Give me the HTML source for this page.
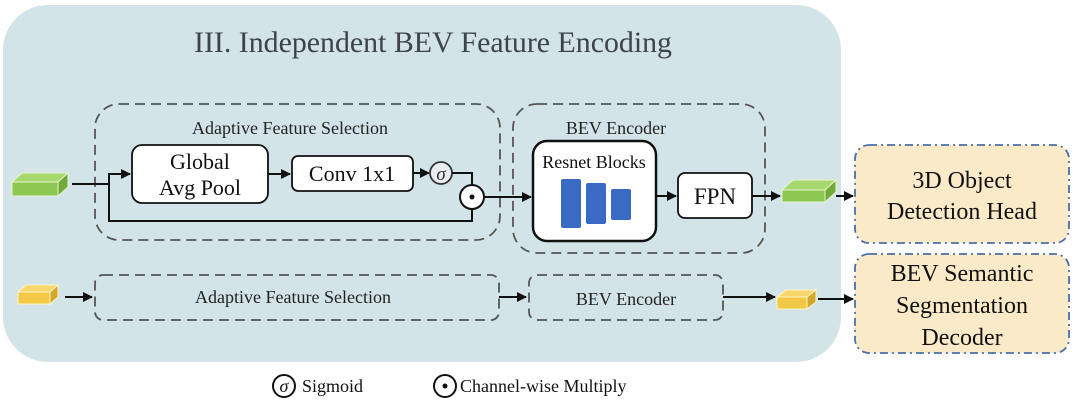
<!DOCTYPE html>
<html><head><meta charset="utf-8"><style>
html,body{margin:0;padding:0;background:#fff;}
svg{display:block;}
svg text{font-family:"Liberation Serif","DejaVu Serif","Noto Serif CJK SC",serif;}
</style></head><body>
<svg width="1080" height="408" viewBox="0 0 1080 408" xmlns="http://www.w3.org/2000/svg">
<defs>
<marker id="ar" markerWidth="10" markerHeight="10" refX="9" refY="5" orient="auto" markerUnits="userSpaceOnUse">
<path d="M0,0 L10,5 L0,10 z" fill="#111"/></marker>
</defs>
<rect x="3" y="5" width="838" height="357" rx="45" fill="#d3e4e8"/>
<text x="433" y="52" font-size="30" fill="#3d4448" text-anchor="middle" textLength="478" lengthAdjust="spacingAndGlyphs">III. Independent BEV Feature Encoding</text>

<rect x="95" y="104" width="405" height="136" rx="24" fill="none" stroke="#555" stroke-width="1.8" stroke-dasharray="10,6"/>
<text x="290" y="134" font-size="18" fill="#222" text-anchor="middle">Adaptive Feature Selection</text>
<g>
<polygon points="12,182 22,173 68,173 58,182" fill="#a6d86e" stroke="#e8f5d0" stroke-width="1"/>
<polygon points="12,182 58,182 58,196 12,196" fill="#8cc850" stroke="#e8f5d0" stroke-width="1"/>
<polygon points="58,182 68,173 68,187 58,196" fill="#6faa3a" stroke="#e8f5d0" stroke-width="1"/>
</g>
<line x1="72" y1="184" x2="109" y2="184" stroke="#111" stroke-width="2"/>
<polyline points="109,184 109,174 130,174" fill="none" stroke="#111" stroke-width="2" marker-end="url(#ar)"/>
<polyline points="109,184 109,221 472,221 472,209" fill="none" stroke="#111" stroke-width="2"/>
<rect x="132" y="145" width="136" height="58" rx="10" fill="#fff" stroke="#111" stroke-width="1.8"/>
<text x="200" y="169" font-size="22" text-anchor="middle" fill="#111">Global</text>
<text x="200" y="195" font-size="22" text-anchor="middle" fill="#111">Avg Pool</text>
<line x1="268" y1="174" x2="290" y2="174" stroke="#111" stroke-width="2" marker-end="url(#ar)"/>
<rect x="292" y="156" width="121" height="35" rx="6" fill="#fff" stroke="#111" stroke-width="1.8"/>
<text x="352" y="181" font-size="22" text-anchor="middle" fill="#111">Conv 1x1</text>
<line x1="413" y1="173" x2="429" y2="173" stroke="#111" stroke-width="2" marker-end="url(#ar)"/>
<circle cx="441" cy="173" r="11" fill="#e8eeee" stroke="#333" stroke-width="1.8"/>
<text x="441" y="180" font-size="19" font-style="italic" text-anchor="middle" fill="#333">σ</text>
<polyline points="452,173 472,173 472,185" fill="none" stroke="#111" stroke-width="2"/>
<circle cx="472" cy="197" r="12" fill="#fff" stroke="#111" stroke-width="2"/>
<circle cx="472" cy="197" r="2.5" fill="#111"/>
<line x1="484" y1="197" x2="531" y2="197" stroke="#111" stroke-width="2" marker-end="url(#ar)"/>

<rect x="513" y="104" width="252" height="149" rx="24" fill="none" stroke="#555" stroke-width="1.8" stroke-dasharray="10,6"/>
<text x="616" y="134" font-size="18" text-anchor="middle" fill="#222">BEV Encoder</text>
<rect x="533" y="141" width="123" height="100" rx="14" fill="#fff" stroke="#111" stroke-width="2.5"/>
<text x="594" y="168" font-size="18" text-anchor="middle" fill="#111">Resnet Blocks</text>
<rect x="561" y="179" width="20" height="49" rx="2" fill="#3a6bc4"/>
<rect x="586" y="183" width="20" height="41" rx="2" fill="#3a6bc4"/>
<rect x="611" y="189" width="20" height="31" rx="2" fill="#3a6bc4"/>
<line x1="656" y1="196" x2="676" y2="196" stroke="#111" stroke-width="2" marker-end="url(#ar)"/>
<rect x="678" y="173" width="74" height="45" rx="7" fill="#fff" stroke="#111" stroke-width="1.8"/>
<text x="715" y="204" font-size="23" text-anchor="middle" fill="#111">FPN</text>
<line x1="752" y1="196" x2="780" y2="196" stroke="#111" stroke-width="2" marker-end="url(#ar)"/>
<g>
<polygon points="782,190 793,180 836,180 825,190" fill="#a6d86e" stroke="#e8f5d0"/>
<polygon points="782,190 825,190 825,202 782,202" fill="#8cc850" stroke="#e8f5d0"/>
<polygon points="825,190 836,180 836,192 825,202" fill="#6faa3a" stroke="#e8f5d0"/>
</g>
<line x1="836" y1="196" x2="853" y2="196" stroke="#111" stroke-width="2" marker-end="url(#ar)"/>

<rect x="855" y="145" width="214" height="98" rx="14" fill="#fbeac8" stroke="#4a6ea8" stroke-width="1.8" stroke-dasharray="8,4,2,4"/>
<text x="962" y="188" font-size="24" text-anchor="middle" fill="#111">3D Object</text>
<text x="962" y="219" font-size="24" text-anchor="middle" fill="#111">Detection Head</text>
<rect x="855" y="254" width="214" height="99" rx="14" fill="#fbeac8" stroke="#4a6ea8" stroke-width="1.8" stroke-dasharray="8,4,2,4"/>
<text x="962" y="281" font-size="24" text-anchor="middle" fill="#111">BEV Semantic</text>
<text x="962" y="313" font-size="24" text-anchor="middle" fill="#111">Segmentation</text>
<text x="962" y="345" font-size="24" text-anchor="middle" fill="#111">Decoder</text>

<g>
<polygon points="18,292 26,285 58,285 50,292" fill="#f7d66a" stroke="#fff4c8"/>
<polygon points="18,292 50,292 50,304 18,304" fill="#f2c844" stroke="#fff4c8"/>
<polygon points="50,292 58,285 58,297 50,304" fill="#d4a82c" stroke="#fff4c8"/>
</g>
<line x1="65" y1="297" x2="92" y2="297" stroke="#111" stroke-width="2" marker-end="url(#ar)"/>
<rect x="95" y="275" width="404" height="45" rx="8" fill="none" stroke="#555" stroke-width="1.8" stroke-dasharray="10,6"/>
<text x="293" y="303" font-size="18" text-anchor="middle" fill="#222">Adaptive Feature Selection</text>
<line x1="499" y1="297" x2="526" y2="297" stroke="#111" stroke-width="2" marker-end="url(#ar)"/>
<rect x="529" y="275" width="194" height="45" rx="8" fill="none" stroke="#555" stroke-width="1.8" stroke-dasharray="10,6"/>
<text x="626" y="305" font-size="18" text-anchor="middle" fill="#222">BEV Encoder</text>
<line x1="723" y1="297" x2="775" y2="297" stroke="#111" stroke-width="2" marker-end="url(#ar)"/>
<g>
<polygon points="777,297 786,290 816,290 807,297" fill="#f7d66a" stroke="#fff4c8"/>
<polygon points="777,297 807,297 807,309 777,309" fill="#f2c844" stroke="#fff4c8"/>
<polygon points="807,297 816,290 816,302 807,309" fill="#d4a82c" stroke="#fff4c8"/>
</g>
<line x1="818" y1="299" x2="853" y2="299" stroke="#111" stroke-width="2" marker-end="url(#ar)"/>

<circle cx="284" cy="386" r="11" fill="#fff" stroke="#111" stroke-width="2"/>
<text x="284" y="392" font-size="18" font-style="italic" text-anchor="middle" fill="#111">σ</text>
<text x="302" y="392" font-size="18" fill="#111">Sigmoid</text>
<circle cx="445" cy="386" r="11" fill="#fff" stroke="#111" stroke-width="2"/>
<circle cx="445" cy="386" r="2.5" fill="#111"/>
<text x="460" y="392" font-size="18" fill="#111">Channel-wise Multiply</text>
</svg>
</body></html>
